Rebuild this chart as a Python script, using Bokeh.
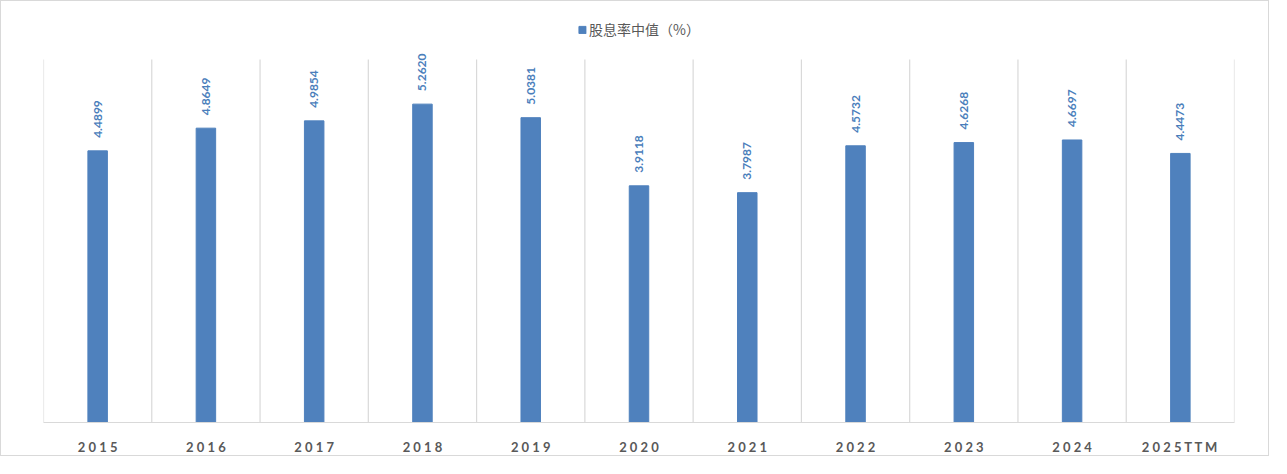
from math import pi
from bokeh.plotting import figure
from bokeh.models import FactorRange, Range1d, Legend, LegendItem, ColumnDataSource
from bokeh.core.properties import value
from bokeh.embed import file_html
from bokeh.resources import INLINE

categories = ["2015", "2016", "2017", "2018", "2019", "2020", "2021", "2022", "2023", "2024", "2025TTM"]
dividend_yield = [4.4899, 4.8649, 4.9854, 5.2620, 5.0381, 3.9118, 3.7987, 4.5732, 4.6268, 4.6697, 4.4473]
series_name = "股息率中值（%）"
axis_max = 6.0
# letter-spaced tick labels as in the original
tick_labels = [" ".join(c) for c in categories]

BAR = "#4F81BD"
LABEL = "#4a7ebb"
GREY_TXT = "#595959"
GRID = "#d9d9d9"

p = figure(x_range=FactorRange(*tick_labels), y_range=Range1d(0, 6.76),
           width=1269, height=456, output_backend="svg", toolbar_location=None,
           min_border_left=42, min_border_right=36, min_border_top=12, min_border_bottom=34)
p.styles = {"border": "1px solid #d9d9d9"}
p.outline_line_color = None
p.background_fill_color = "white"
p.border_fill_color = "white"
p.yaxis.visible = False
p.xgrid.visible = False
p.ygrid.visible = False

# category boundary lines
bounds = list(range(len(categories) + 1))
p.segment(x0=bounds, x1=bounds, y0=[0] * len(bounds), y1=[axis_max] * len(bounds),
          line_color=GRID, line_width=1.2)

src = ColumnDataSource(dict(cat=tick_labels, val=dividend_yield,
                            txt=[f"{v:.4f}" for v in dividend_yield]))
r = p.vbar(x="cat", top="val", width=0.18, source=src, fill_color=BAR, line_color=BAR)

p.text(x="cat", y="val", text="txt", source=src, angle=pi / 2, y_offset=-13,
       text_align="left", text_baseline="middle", text_color=LABEL,
       text_font=value("Lato"), text_font_size="12px", text_font_style="bold")

ax = p.xaxis[0]
ax.axis_line_color = GRID
ax.axis_line_width = 1.2
ax.major_tick_line_color = None
ax.minor_tick_line_color = None
ax.major_label_text_color = GREY_TXT
ax.major_label_text_font = "Lato"
ax.major_label_text_font_style = "bold"
ax.major_label_text_font_size = "13px"
ax.major_label_standoff = 10

legend = Legend(items=[LegendItem(label=series_name, renderers=[r])],
                location="top_center", orientation="horizontal",
                label_text_font="Noto Sans CJK SC", label_text_font_size="14px",
                label_text_color=GREY_TXT, glyph_width=9, glyph_height=9,
                label_standoff=3, padding=0, margin=6, spacing=0,
                border_line_color=None, background_fill_alpha=0)
p.add_layout(legend)

open("out.html", "w").write(file_html(p, INLINE))
